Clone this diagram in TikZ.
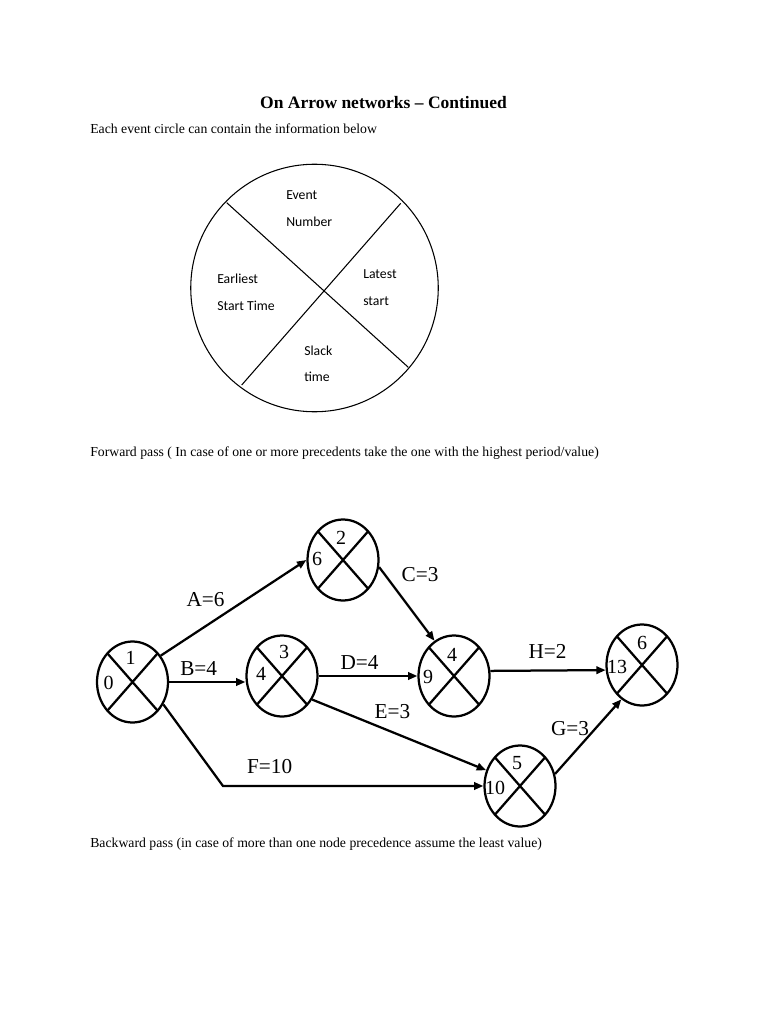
\documentclass[tikz,border=0pt]{standalone}
\usepackage{fontspec}
\setmainfont{Liberation Serif}
\newfontfamily\calibri{Carlito}
\usetikzlibrary{shapes.geometric,arrows.meta}
\begin{document}
\begin{tikzpicture}[x=0.8pt,y=-0.8pt,
  ev/.style={ellipse,draw,line width=1.8pt,minimum width=56.8pt,minimum height=64.8pt,inner sep=0pt,
    path picture={\draw[line width=1.8pt] (path picture bounding box.north west) -- (path picture bounding box.south east)
      (path picture bounding box.north east) -- (path picture bounding box.south west);}},
  num/.style={font=\fontsize{16}{16}\selectfont,inner sep=0pt},
  lab/.style={font=\fontsize{17}{17}\selectfont,inner sep=0pt},
  arr/.style={line width=1.8pt,-{Triangle[length=7.5pt,width=6pt]}},
  body/.style={font=\fontsize{11}{13}\selectfont,anchor=base west,inner sep=0pt},
  info/.style={font=\calibri\fontsize{11}{13}\selectfont,anchor=base west,inner sep=0pt},
  thin/.style={line width=0.85pt}]
\useasboundingbox[fill=white] (0,0) rectangle (768,1024);

% texts
\node[font=\bfseries\fontsize{14}{16}\selectfont,anchor=base,inner sep=0pt] (title) at (383.5,109) {On Arrow networks -- Continued};
\node[body] (t1) at (90,134) {Each event circle can contain the information below};
\node[body] (t2) at (90,456) {Forward pass ( In case of one or more precedents take the one with the highest period/value)};
\node[body] (t3) at (90,847) {Backward pass (in case of more than one node precedence assume the least value)};

% information circle
\draw[thin] (314.5,288) circle[radius=99pt];
\draw[thin] (226.7,202.7) -- (408.3,367.3);
\draw[thin] (400.7,203.3) -- (241.7,385);
\node[info] (i1) at (286,200) {Event};
\node[info] (i2) at (286,226) {Number};
\node[info] (i3) at (217,283) {Earliest};
\node[info] (i4) at (217,310) {Start Time};
\node[info] (i5) at (363,278) {Latest};
\node[info] (i6) at (363,305) {start};
\node[info] (i7) at (304,355) {Slack};
\node[info] (i8) at (304,381) {time};

% event nodes
\node[ev] (n1) at (132.5,682) {};
\node[ev] (n2) at (343,560) {};
\node[ev] (n3) at (282,676) {};
\node[ev] (n4) at (454,676) {};
\node[ev] (n5) at (520,786) {};
\node[ev] (n6) at (642,665) {};

\node[num] (n1t) at ([shift={(-2,-24)}]n1.center) {1};
\node[num] (n1l) at ([shift={(-24,1)}]n1.center) {0};
\node[num] (n2t) at ([shift={(-2,-22)}]n2.center) {2};
\node[num] (n2l) at ([shift={(-26,-1)}]n2.center) {6};
\node[num] (n3t) at ([shift={(2,-24)}]n3.center) {3};
\node[num] (n3l) at ([shift={(-21,-2)}]n3.center) {4};
\node[num] (n4t) at ([shift={(-2,-21)}]n4.center) {4};
\node[num] (n4l) at ([shift={(-26,1)}]n4.center) {9};
\node[num] (n5t) at ([shift={(-3,-23)}]n5.center) {5};
\node[num] (n5l) at ([shift={(-25,2)}]n5.center) {10};
\node[num] (n6t) at ([shift={(0,-22)}]n6.center) {6};
\node[num] (n6l) at ([shift={(-25,2)}]n6.center) {13};

% activities
\coordinate (fbend) at (223,786);
\draw[arr] (n1.43) -- (n2.west);
\draw[arr] (n1.east) -- (n1.east -| n3.west);
\draw[arr] (n2.-11) -- (n4.119);
\draw[arr] (n3.east) -- (n4.west);
\draw[arr] (n3.-38) -- (n5.155);
\draw[arr] (n1.-36) -- (fbend) -- (n5.west);
\draw[arr] (n4.8) -- (n6.-172);
\draw[arr] (n5.19) -- (n6.-121);

\node[lab] (la) at (205.5,600) {A=6};
\node[lab] (lb) at (198.7,669) {B=4};
\node[lab] (lc) at (420,575) {C=3};
\node[lab] (ld) at (359.6,662.7) {D=4};
\node[lab] (le) at (392.5,711.7) {E=3};
\node[lab] (lf) at (269.7,766.7) {F=10};
\node[lab] (lh) at (547.5,651.7) {H=2};
\node[lab] (lg) at (570,728.3) {G=3};
\end{tikzpicture}
\end{document}
